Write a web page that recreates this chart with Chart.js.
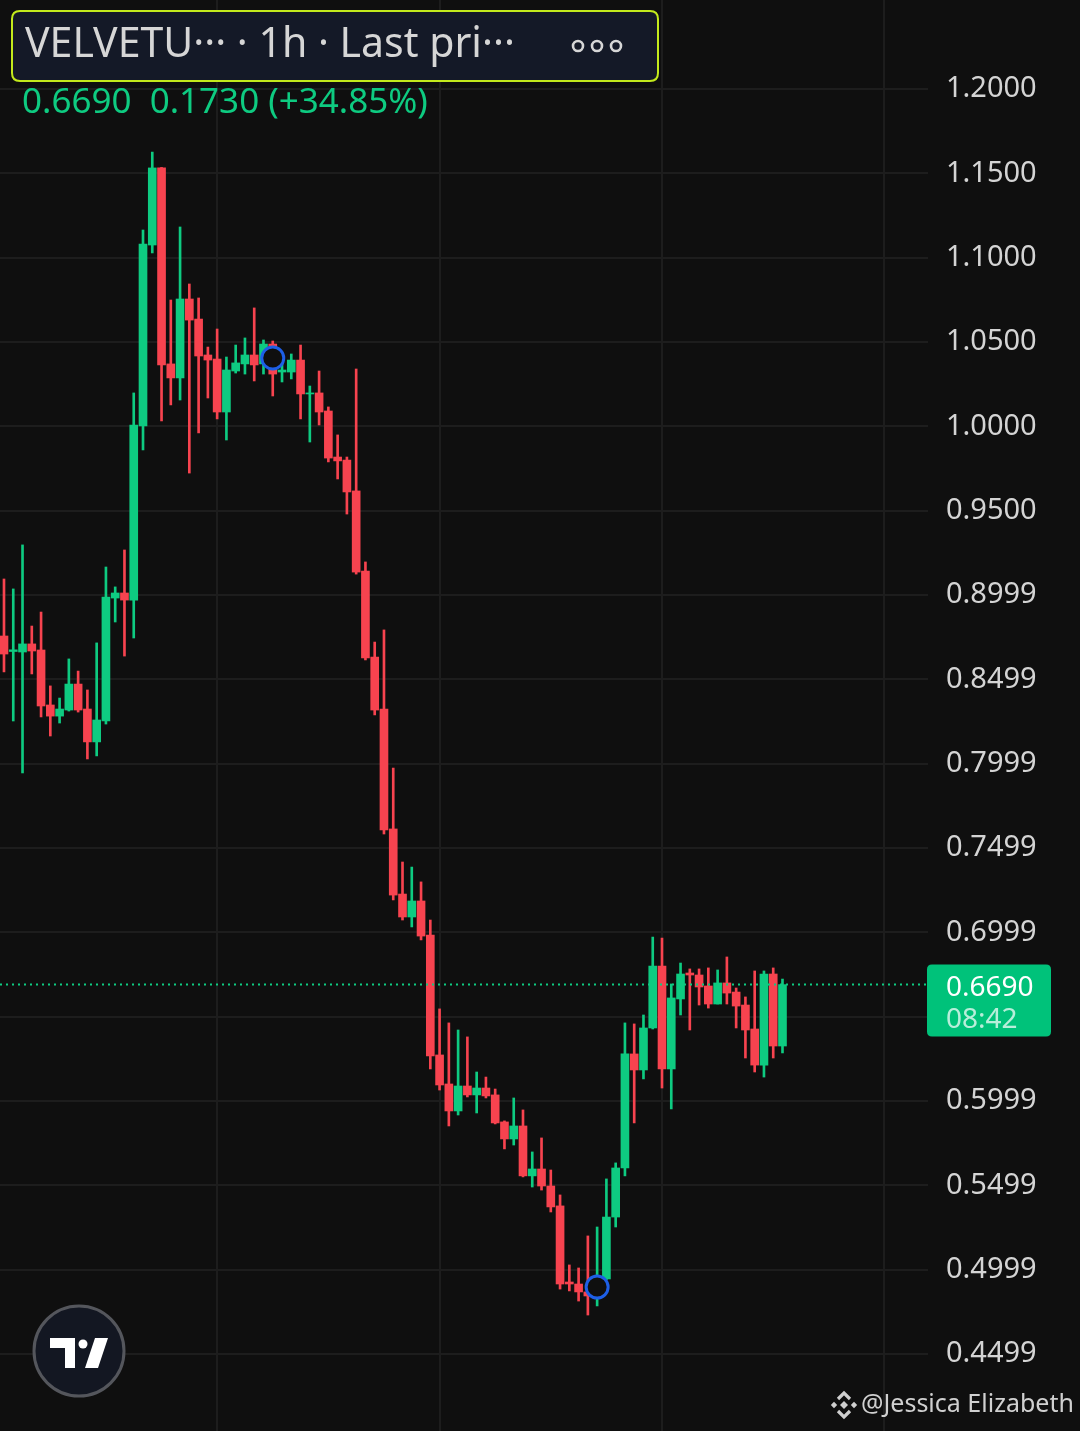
<!DOCTYPE html>
<html>
<head>
<meta charset="utf-8">
<script src="https://cdn.jsdelivr.net/npm/chart.js@4.4.1/dist/chart.umd.min.js"></script>
<style>
html,body{margin:0;padding:0;background:#0f0f0f;}
#wrap{position:relative;width:1080px;height:1431px;}
canvas{display:block;}
</style>
</head>
<body>
<div id="wrap"><canvas id="c" width="1080" height="1431"></canvas></div>
<script>
// ---- DATA ----
const candleOpen = [0.8757,0.8665,0.8662,0.8710,0.8674,0.8348,0.8282,0.8318,0.8472,0.8324,
  0.8129,0.8253,0.8982,0.9012,0.8970,1.0003,1.1075,1.1532,1.0370,1.0287,
  1.0755,1.0636,1.0423,1.0399,1.0085,1.0328,1.0370,1.0423,1.0370,1.0488,
  1.0322,1.0322,1.0393,1.0192,1.0198,1.0091,0.9818,0.9800,0.9617,0.9142,
  0.8632,0.8324,0.7613,0.7227,0.7091,0.7186,0.6984,0.6273,0.6101,0.5941,
  0.6089,0.6036,0.6077,0.6036,0.5876,0.5775,0.5852,0.5556,0.5597,0.5496,
  0.5378,0.4927,0.4915,0.4868,0.4856,0.4945,0.5312,0.5603,0.6279,0.6184,
  0.6433,0.6800,0.6190,0.6605,0.6759,0.6747,0.6682,0.6575,0.6700,0.6646,
  0.6569,0.6427,0.6213,0.6753,0.6326];
const candleHigh = [0.9095,0.9036,0.9297,0.8816,0.8899,0.8461,0.8389,0.8621,0.8549,0.8437,
  0.8716,0.9166,0.9048,0.9267,1.0198,1.1164,1.1626,1.1535,1.0749,1.1182,
  1.0844,1.0761,1.0470,1.0577,1.0411,1.0482,1.0524,1.0702,1.0512,1.0506,
  1.0393,1.0429,1.0482,1.0239,1.0328,1.0115,0.9949,0.9818,1.0340,0.9196,
  0.8721,0.8793,0.7974,0.7417,0.7387,0.7299,0.7073,0.6546,0.6463,0.6421,
  0.6380,0.6172,0.6142,0.6071,0.5882,0.6018,0.5947,0.5698,0.5781,0.5591,
  0.5443,0.5028,0.5010,0.5200,0.5253,0.5538,0.5633,0.6463,0.6457,0.6510,
  0.6972,0.6966,0.6694,0.6818,0.6783,0.6783,0.6789,0.6777,0.6854,0.6670,
  0.6617,0.6771,0.6771,0.6789,0.6723];
const candleLow = [0.8544,0.8253,0.7945,0.8532,0.8277,0.8164,0.8241,0.8312,0.8306,0.8028,
  0.8046,0.8235,0.8840,0.8638,0.8745,0.9860,1.1028,1.0032,1.0127,1.0156,
  0.9723,0.9961,1.0168,1.0044,0.9919,1.0316,1.0310,1.0269,1.0310,1.0180,
  1.0263,1.0281,1.0044,0.9907,1.0008,0.9789,0.9688,0.9480,0.9124,0.8615,
  0.8289,0.7583,0.7192,0.7073,0.7032,0.6955,0.6190,0.6065,0.5852,0.5917,
  0.6024,0.5929,0.6018,0.5864,0.5716,0.5739,0.5550,0.5490,0.5472,0.5342,
  0.4885,0.4874,0.4814,0.4731,0.4785,0.4940,0.5253,0.5556,0.5870,0.6131,
  0.6427,0.6077,0.5953,0.6510,0.6421,0.6569,0.6551,0.6575,0.6575,0.6433,
  0.6255,0.6172,0.6142,0.6255,0.6285];
const candleClose = [0.8650,0.8675,0.8710,0.8668,0.8342,0.8282,0.8324,0.8472,0.8318,0.8129,
  0.8259,0.8988,0.9012,0.8970,1.0008,1.1081,1.1532,1.0364,1.0287,1.0755,
  1.0630,1.0417,1.0393,1.0085,1.0334,1.0376,1.0423,1.0364,1.0488,1.0310,
  1.0334,1.0393,1.0192,1.0198,1.0085,0.9812,0.9795,0.9611,0.9136,0.8627,
  0.8318,0.7607,0.7221,0.7091,0.7186,0.6978,0.6267,0.6095,0.5941,0.6089,
  0.6036,0.6077,0.6030,0.5870,0.5775,0.5852,0.5556,0.5597,0.5496,0.5372,
  0.4915,0.4915,0.4868,0.4844,0.4927,0.5312,0.5603,0.6279,0.6184,0.6433,
  0.6800,0.6190,0.6611,0.6753,0.6747,0.6676,0.6575,0.6700,0.6640,0.6563,
  0.6421,0.6213,0.6753,0.6326,0.6690];
const yTickValues = [1.20,1.15,1.10,1.05,1.00,0.95,0.90,0.85,0.80,0.75,0.70,0.65,0.60,0.55,0.50,0.45];
const yTickLabels = ['1.2000','1.1500','1.1000','1.0500','1.0000','0.9500','0.8999','0.8499','0.7999','0.7499','0.6999','0.6499','0.5999','0.5499','0.4999','0.4499'];
const xGridIndices = [23,47,71,95];
const markerIndex = [29,64];
const markerPrice = [1.0405,0.4897];
const lastPrice = 0.6690;
const lastPriceLabel = '0.6690';
const countdownLabel = '08:42';
const titleText = 'VELVETU··· · 1h · Last pri···';
const changeText = '0.6690  0.1730 (+34.85%)';
const watermarkText = '@Jessica Elizabeth';

// ---- STYLE ----
const UP = '#0ecb81', DOWN = '#f7434f', BG = '#0f0f0f', GRID = '#1d1d1d';
const FONT = '"Noto Sans", "Open Sans", sans-serif';
const idx = candleOpen.map((_, i) => i);
const colors = idx.map(i => candleClose[i] >= candleOpen[i] ? UP : DOWN);

const PX_PER_UNIT = 1686.67, TOP_PX = 89, H = 1431;
const yMax = 1.2 + TOP_PX / PX_PER_UNIT;
const yMin = 1.2 - (H - TOP_PX) / PX_PER_UNIT;

function rr(ctx, x, y, w, h, r) {
  ctx.beginPath();
  ctx.moveTo(x + r, y); ctx.lineTo(x + w - r, y); ctx.quadraticCurveTo(x + w, y, x + w, y + r);
  ctx.lineTo(x + w, y + h - r); ctx.quadraticCurveTo(x + w, y + h, x + w - r, y + h);
  ctx.lineTo(x + r, y + h); ctx.quadraticCurveTo(x, y + h, x, y + h - r);
  ctx.lineTo(x, y + r); ctx.quadraticCurveTo(x, y, x + r, y); ctx.closePath();
}

const bgPlugin = {
  id: 'bg',
  beforeDraw(chart) {
    const ctx = chart.ctx; ctx.save(); ctx.fillStyle = BG; ctx.fillRect(0, 0, chart.width, chart.height); ctx.restore();
  }
};

const overlay = {
  id: 'overlay',
  afterDatasetsDraw(chart) {
    const ctx = chart.ctx, ys = chart.scales.y, area = chart.chartArea;
    const yp = ys.getPixelForValue(lastPrice);
    ctx.save();
    ctx.strokeStyle = UP; ctx.lineWidth = 2; ctx.setLineDash([2, 4]);
    ctx.beginPath(); ctx.moveTo(area.left, yp); ctx.lineTo(area.right, yp); ctx.stroke();
    ctx.restore();
  },
  afterDraw(chart) {
    const ctx = chart.ctx, ys = chart.scales.y, area = chart.chartArea;
    const yp = ys.getPixelForValue(lastPrice);
    ctx.save();
    // price box
    ctx.fillStyle = '#00c27a';
    rr(ctx, area.right - 1, yp - 20, 124, 72, 5); ctx.fill();
    ctx.font = '28px ' + FONT; ctx.textBaseline = 'alphabetic'; ctx.textAlign = 'left';
    ctx.fillStyle = '#ffffff'; ctx.fillText(lastPriceLabel, area.right + 18, yp + 11);
    ctx.fillStyle = 'rgba(255,255,255,0.72)'; ctx.fillText(countdownLabel, area.right + 18, yp + 43);

    // title box
    ctx.fillStyle = '#141927'; rr(ctx, 12, 11, 646, 70, 8); ctx.fill();
    ctx.strokeStyle = '#c3ea1c'; ctx.lineWidth = 2; rr(ctx, 12, 11, 646, 70, 8); ctx.stroke();
    ctx.fillStyle = '#d6d6d6'; ctx.font = '41px ' + FONT; ctx.textBaseline = 'middle';
    ctx.fillText(titleText, 25, 45);
    ctx.strokeStyle = '#d6d6d6'; ctx.lineWidth = 2.6;
    [578, 597, 616].forEach(cx => { ctx.beginPath(); ctx.arc(cx, 46, 5, 0, Math.PI * 2); ctx.stroke(); });

    // change line
    ctx.fillStyle = UP; ctx.font = '35px ' + FONT; ctx.textBaseline = 'middle';
    ctx.fillText(changeText, 22, 103);

    // TV logo
    ctx.beginPath(); ctx.arc(79, 1351, 45, 0, Math.PI * 2);
    ctx.fillStyle = '#131722'; ctx.fill(); ctx.strokeStyle = '#54565c'; ctx.lineWidth = 3; ctx.stroke();
    ctx.fillStyle = '#ffffff';
    ctx.fillRect(50, 1338, 25, 10); ctx.fillRect(65, 1338, 10, 30);
    ctx.beginPath(); ctx.arc(83, 1344, 4.5, 0, Math.PI * 2); ctx.fill();
    ctx.beginPath(); ctx.moveTo(95, 1338); ctx.lineTo(108, 1338); ctx.lineTo(98, 1368); ctx.lineTo(85, 1368); ctx.closePath(); ctx.fill();

    // watermark
    const bx = 844, by = 1405;
    ctx.fillStyle = '#cfcfcf'; ctx.strokeStyle = '#cfcfcf';
    const dia = (x, y, s) => { ctx.beginPath(); ctx.moveTo(x, y - s); ctx.lineTo(x + s, y); ctx.lineTo(x, y + s); ctx.lineTo(x - s, y); ctx.closePath(); ctx.fill(); };
    dia(bx, by, 4); dia(bx - 10, by, 3.2); dia(bx + 10, by, 3.2);
    ctx.lineWidth = 3.2;
    ctx.beginPath(); ctx.moveTo(bx - 6, by - 6); ctx.lineTo(bx, by - 12); ctx.lineTo(bx + 6, by - 6); ctx.stroke();
    ctx.beginPath(); ctx.moveTo(bx - 6, by + 6); ctx.lineTo(bx, by + 12); ctx.lineTo(bx + 6, by + 6); ctx.stroke();
    ctx.font = '25px ' + FONT; ctx.textBaseline = 'middle'; ctx.fillStyle = '#d0d0d0';
    ctx.fillText(watermarkText, 861, 1405);
    ctx.restore();
  }
};

new Chart(document.getElementById('c'), {
  type: 'bar',
  data: {
    datasets: [
      {
        type: 'scatter',
        data: markerIndex.map((x, i) => ({ x: x, y: markerPrice[i] })),
        pointRadius: 11, pointBorderWidth: 3, pointBorderColor: '#1e5fe6', pointBackgroundColor: BG,
        order: 0, clip: false
      },
      {
        data: idx.map(i => ({ x: i, y: [candleOpen[i], candleClose[i]] })),
        backgroundColor: colors, barThickness: 8, grouped: false, order: 1
      },
      {
        data: idx.map(i => ({ x: i, y: [candleLow[i], candleHigh[i]] })),
        backgroundColor: colors, barThickness: 2, grouped: false, order: 2
      }
    ]
  },
  options: {
    responsive: false, animation: false, devicePixelRatio: 1,
    layout: { padding: 0, autoPadding: false },
    plugins: { legend: { display: false }, tooltip: { enabled: false } },
    scales: {
      x: {
        type: 'linear', min: -0.43, max: 99.7, offset: false,
        afterBuildTicks(s) { s.ticks = xGridIndices.map(v => ({ value: v })); },
        afterFit(s) { s.height = 0; s.paddingLeft = 0; s.paddingRight = 0; s.paddingTop = 0; s.paddingBottom = 0; },
        ticks: { display: false },
        grid: { color: GRID, lineWidth: 2, drawTicks: false, offset: false },
        border: { display: false }
      },
      y: {
        position: 'right', min: yMin, max: yMax,
        afterBuildTicks(s) { s.ticks = yTickValues.map(v => ({ value: v })); },
        afterFit(s) { s.width = 152; s.paddingTop = 0; s.paddingBottom = 0; s.paddingLeft = 0; s.paddingRight = 0; },
        ticks: {
          padding: 18, color: '#d4d4d4', font: { family: FONT, size: 29 },
          callback: (v, i) => yTickLabels[i]
        },
        grid: { color: GRID, lineWidth: 2, drawTicks: false, offset: false },
        border: { display: false }
      }
    }
  },
  plugins: [bgPlugin, overlay]
});
</script>
</body>
</html>
